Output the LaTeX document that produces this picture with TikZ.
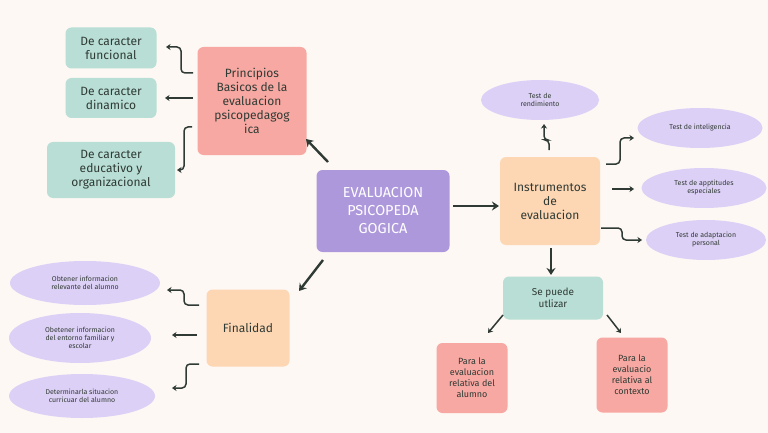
\documentclass[tikz,border=0pt]{standalone}
\usepackage{fontspec}
\setmainfont{Fira Sans}
\usetikzlibrary{arrows.meta,shapes.geometric}
\definecolor{bg}{HTML}{FDF8F4}
\definecolor{purp}{HTML}{AE98DC}
\definecolor{pinkc}{HTML}{F8A8A2}
\definecolor{teal}{HTML}{B8DED5}
\definecolor{peach}{HTML}{FDD6B3}
\definecolor{lav}{HTML}{DDD0F6}
\definecolor{ink}{HTML}{2F3A34}
\tikzset{x=1pt,y=-1pt,
 box/.style={rounded corners=6pt,align=center,text=ink,inner sep=2pt},
 ell/.style={ellipse,fill=lav,align=center,text=ink,font=\scriptsize,inner sep=0pt},
 arr/.style={-{Stealth[length=7pt,width=9pt]},line width=2.4pt,draw=ink},
 harr/.style={-{Stealth[length=4.5pt,width=6pt]},line width=1.5pt,draw=ink,rounded corners=4pt}}
\begin{document}
\begin{tikzpicture}
\fill[bg] (0,0) rectangle (768,433);
\useasboundingbox (0,0) rectangle (768,433);
\node[box,fill=purp,text=white,minimum width=133pt,minimum height=82pt,font=\Large] (c) at (383,211) {EVALUACION\\PSICOPEDA\\GOGICA};
\node[box,fill=pinkc,minimum width=109pt,minimum height=108pt,font=\large,inner sep=1pt] (p) at (252,101) {Principios\\Basicos de la\\evaluacion\\psicopedagog\\ica};
\node[box,fill=teal,minimum width=91pt,minimum height=41pt,font=\large] (f1) at (111,48) {De caracter\\funcional};
\node[box,fill=teal,minimum width=91pt,minimum height=40pt,font=\large] (f2) at (111,98) {De caracter\\dinamico};
\node[box,fill=teal,minimum width=128pt,minimum height=56pt,font=\large] (f3) at (111,170) {De caracter\\educativo y\\organizacional};
\node[box,fill=peach,minimum width=100pt,minimum height=88pt,font=\large] (i) at (550,201) {Instrumentos\\de\\evaluacion};
\node[ell,minimum width=118pt,minimum height=40pt] (t1) at (540,100) {Test de\\rendimiento};
\node[ell,minimum width=125pt,minimum height=40pt] (t2) at (700,128) {Test de inteligencia};
\node[ell,minimum width=125pt,minimum height=40pt] (t3) at (704,188) {Test de apptitudes\\especiales};
\node[ell,minimum width=120pt,minimum height=40pt] (t4) at (706,240) {Test de adaptacion\\personal};
\node[box,fill=teal,minimum width=100pt,minimum height=43pt,font=\normalsize] (s) at (553,298) {Se puede\\utlizar};
\node[box,fill=pinkc,minimum width=71pt,minimum height=70pt,font=\small] (a1) at (472,378) {Para la\\evaluacion\\relativa del\\alumno};
\node[box,fill=pinkc,minimum width=71pt,minimum height=75pt,font=\small] (a2) at (632,375) {Para la\\evaluacio\\relativa al\\contexto};
\node[box,fill=peach,minimum width=83pt,minimum height=77pt,font=\large] (fi) at (248,328) {Finalidad};
\node[ell,minimum width=150pt,minimum height=44pt] (e1) at (85,283) {Obtener informacion\\relevante del alumno};
\node[ell,minimum width=142pt,minimum height=50pt] (e2) at (80,338) {Obetener informacion\\del entorno familiar y\\escolar};
\node[ell,minimum width=146pt,minimum height=44pt] (e3) at (82,396) {Determinarla situacion\\curricuar del alumno};
% arrow anchor coordinates
\coordinate (cp) at (328,162); \coordinate (pc) at (306,139);
\coordinate (ci) at (453,206); \coordinate (ic) at (499,206);
\coordinate (is) at (551,248); \coordinate (si) at (551,275);
\coordinate (cf) at (323,260); \coordinate (fc) at (299,291);
\draw[arr] (cp) -- (pc);
\draw[arr] (ci) -- (ic);
\draw[arr] (is) -- (si);
\draw[arr] (cf) -- (fc);
% hooks principios
\coordinate (h1) at (193,73); \coordinate (h1e) at (166,47);
\draw[harr] (h1) -- (181,73) -- (181,47) -- (h1e);
\coordinate (h2) at (193,98); \coordinate (h2e) at (165,98);
\draw[harr] (h2) -- (h2e);
\coordinate (h3) at (192,127); \coordinate (h3e) at (177,170);
\draw[harr] (h3) -- (184,127) -- (184,170) -- (h3e);
% instruments
\coordinate (r1) at (549,150); \coordinate (r1e) at (544,124);
\draw[harr] (r1) -- (549,140) -- (544,140) -- (r1e);
\coordinate (g1) at (606,164); \coordinate (g1e) at (634,138);
\draw[harr] (g1) -- (620,164) -- (620,138) -- (g1e);
\coordinate (g2) at (612,189); \coordinate (g2e) at (634,189);
\draw[harr] (g2) -- (g2e);
\coordinate (g3) at (601,228); \coordinate (g3e) at (642,240);
\draw[harr] (g3) -- (622,228) -- (622,240) -- (g3e);
% se puede
\coordinate (s1) at (503,315); \coordinate (s1e) at (488,333);
\coordinate (s2) at (607,315); \coordinate (s2e) at (621,333);
\draw[harr] (s1) -- (s1e);
\draw[harr] (s2) -- (s2e);
% finalidad
\coordinate (q1) at (199,305); \coordinate (q1e) at (167,290);
\draw[harr] (q1) -- (184,305) -- (184,290) -- (q1e);
\coordinate (q2) at (197,335); \coordinate (q2e) at (172,335);
\draw[harr] (q2) -- (q2e);
\coordinate (q3) at (199,364); \coordinate (q3e) at (172,388);
\draw[harr] (q3) -- (186,364) -- (186,388) -- (q3e);
\end{tikzpicture}
\end{document}
